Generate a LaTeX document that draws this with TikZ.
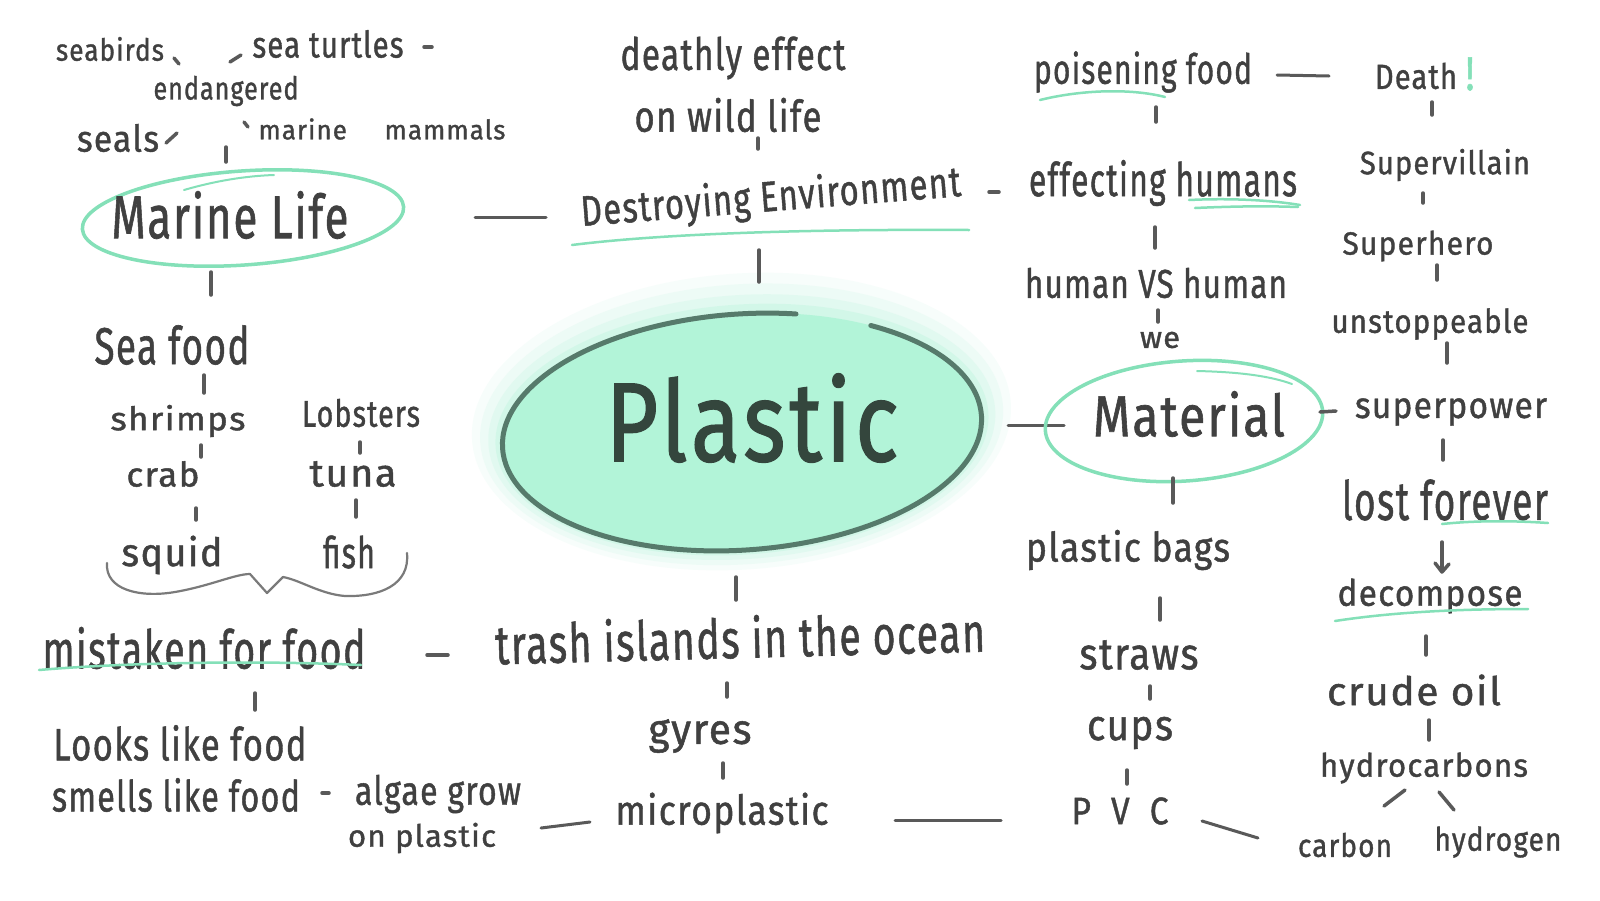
\documentclass[tikz,border=0pt]{standalone}
\usepackage{fontspec}
\usepackage{graphicx}
\setmainfont{Fira Sans}
\newfontfamily\hand[LetterSpace=4,FakeBold=1.2]{Fira Sans}
\usetikzlibrary{calc}
\definecolor{ink}{HTML}{404040}
\definecolor{tickc}{HTML}{595959}
\definecolor{mint}{HTML}{84E0B8}
\definecolor{mintfill}{HTML}{B2F4D8}
\definecolor{rim}{HTML}{567A6B}
\definecolor{plink}{HTML}{34463D}
\newsavebox\hwbox
% #1 target width, #2 target total height (handwriting box); vertical scale is the
% geometric mean of the width-fit and the height-fit factors
\newcommand\hw[3]{\sbox\hwbox{\fontsize{20}{20}\hand #3}%
  \pgfmathsetmacro\hwsx{#1/\the\wd\hwbox}%
  \pgfmathsetmacro\hwsy{#2/(\the\ht\hwbox+\the\dp\hwbox)}%
  \pgfmathsetmacro\hwsyy{sqrt(\hwsx*\hwsy)}%
  \scalebox{\hwsx}[\hwsyy]{\usebox\hwbox}}
\begin{document}
\begin{tikzpicture}[x=1pt,y=-1pt,
  lbl/.style={text=ink,inner sep=0pt,outer sep=0pt},
  tick/.style={draw=tickc,line width=3.5pt,line cap=round},
  conn/.style={draw=tickc,line width=3pt,line cap=round},
  ul/.style={draw=mint,line width=2.5pt,line cap=round},
  ring/.style={draw=mint,line width=3.5pt},
  brace/.style={draw=tickc!80,line width=2.2pt,line cap=round,line join=round},
]
\useasboundingbox (0,0) rectangle (1600,900);
\fill[white] (0,0) rectangle (1600,900);

% ---------- central Plastic ----------
\foreach \d/\o in {30/0.10,22/0.14,14/0.2,7/0.3}{
  \fill[mintfill,opacity=\o,rotate around={4:(742,430)}] (742,{432-0.35*\d}) ellipse [x radius={240+\d}, y radius={118+\d}];
}
\fill[mintfill,rotate around={4:(742,432)}] (742,432) ellipse [x radius=240, y radius=118];
\draw[draw=rim,line width=5pt,line cap=round,rotate around={4:(742,432)}]
  ([shift={(304.5:240 and 118)}]742,432) arc[start angle=304.5, end angle=645, x radius=240, y radius=118];
\node[lbl,text=plink] (plastic) at (752,418) {\hw{293}{110}{Plastic}};

% ---------- Marine Life ----------
\draw[ring,rotate around={4:(243,218)}] (243,218) ellipse [x radius=161, y radius=47];
\draw[draw=mint,line width=2pt,line cap=round] (184,190) .. controls (215,181) and (245,176) .. (274,175);
\node[lbl] (marinelife) at (230,215) {\hw{237}{66}{Marine Life}};

\node[lbl] (seabirds) at (110,49) {\hw{108}{28}{seabirds}};
\node[lbl] (seaturtles) at (328,44) {\hw{151}{35}{sea turtles}};
\node[lbl] (endangered) at (226,91) {\hw{145}{38}{endangered}};
\node[lbl] (seals) at (118,138) {\hw{82}{31}{seals}};
\node[lbl] (mammals) at (382,129) {\hw{247}{22}{marine\hspace{1.45em}mammals}};

\draw[tick] (174,58) -- (179,64);
\draw[tick] (241,55) -- (230,62);
\draw[tick] (424,47) -- (432,47);
\draw[tick] (177,133) -- (166,143);
\draw[tick] (244,122) -- (248,127);
\draw[tick] (226,147) -- (226,162);

\node[lbl] (seafood) at (172,345) {\hw{155}{56}{Sea food}};
\node[lbl] (shrimps) at (178,421) {\hw{135}{30}{shrimps}};
\node[lbl] (lobsters) at (361,413) {\hw{118}{37}{Lobsters}};
\node[lbl] (crab) at (163,474) {\hw{73}{25}{crab}};
\node[lbl] (tuna) at (353,474) {\hw{87}{25}{tuna}};
\node[lbl] (squid) at (172,555) {\hw{101}{40}{squid}};
\node[lbl] (fish) at (349,552) {\hw{52}{47}{fish}};

\draw[tick] (211,272) -- (211,295);
\draw[tick] (204,375) -- (204,393);
\draw[tick] (201,445) -- (201,457);
\draw[tick] (360,442) -- (360,453);
\draw[tick] (196,508) -- (196,520);
\draw[tick] (356,500) -- (356,517);

\draw[brace] (107,563) .. controls (105,590) and (140,598) .. (175,592)
  .. controls (210,586) and (235,574) .. (250,574) -- (267,593) -- (283,577)
  .. controls (300,580) and (320,594) .. (345,596)
  .. controls (380,597) and (410,585) .. (407,553);

\node[lbl] (mistaken) at (204,648) {\hw{323}{60}{mistaken for food}};
\draw[ul] (39,670) .. controls (120,663) and (250,660) .. (361,665);
\draw[tick] (255,693) -- (255,710);
\node[lbl] (looks) at (180,743) {\hw{253}{47}{Looks like food}};
\node[lbl] (smells) at (176,795) {\hw{248}{45}{smells like food}};
\draw[tick] (322,793) -- (329,793);
\node[lbl] (algae) at (438,794) {\hw{166}{48}{algae grow}};
\node[lbl] (onplastic) at (422,838) {\hw{148}{30}{on plastic}};

% ---------- Destroying Environment ----------
\draw[conn] (475,217) -- (546,217);
\node[lbl,rotate=4.5] (destroy) at (771,199) {\hw{381}{55}{Destroying Environment}};
\draw[ul] (572,245) .. controls (660,234) and (800,229) .. (969,230);
\node[lbl] (deathly) at (733,58) {\hw{225}{57}{deathly effect}};
\node[lbl] (wildlife) at (728,115) {\hw{187}{43}{on wild life}};
\draw[tick] (758,138) -- (758,149);
\draw[tick] (759,250) -- (759,282);
\draw[tick] (989,192) -- (999,192);

% ---------- humans ----------
\node[lbl] (poison) at (1143,72) {\hw{218}{57}{poisening food}};
\draw[ul] (1040,100) .. controls (1080,90) and (1130,88) .. (1165,97);
\draw[conn] (1277,75) -- (1329,76);
\node[lbl] (death) at (1416,76) {\hw{82}{32}{Death}};
\node[lbl,text=mint] (excl) at (1470,74) {\hw{9}{42}{!}};
\node[lbl] (effecting) at (1163,183) {\hw{268}{67}{effecting humans}};
\draw[ul] (1189,200) .. controls (1230,198) and (1270,200) .. (1300,205);
\draw[ul] (1195,208) .. controls (1240,206) and (1270,206) .. (1298,207);
\node[lbl] (hvh) at (1156,283) {\hw{262}{39}{human VS human}};
\node[lbl] (we) at (1160,340) {\hw{40}{16}{we}};
\draw[tick] (1156,107) -- (1156,122);
\draw[tick] (1155,227) -- (1155,248);
\draw[tick] (1158,310) -- (1158,322);

\node[lbl] (supervillain) at (1445,165) {\hw{170}{36}{Supervillain}};
\node[lbl] (superhero) at (1418,246) {\hw{151}{33}{Superhero}};
\node[lbl] (unstop) at (1430,324) {\hw{197}{35}{unstoppeable}};
\draw[tick] (1432,102) -- (1432,115);
\draw[tick] (1423,193) -- (1423,203);
\draw[tick] (1437,265) -- (1437,280);
\draw[tick] (1447,343) -- (1447,363);

% ---------- Material ----------
\draw[conn] (1008,425) -- (1064,425);
\draw[ring,rotate around={4:(1184,421)}] (1184,421) ellipse [x radius=139, y radius=60];
\draw[draw=mint,line width=2pt,line cap=round] (1197,371) .. controls (1240,372) and (1270,376) .. (1292,384);
\node[lbl] (material) at (1189,414) {\hw{192}{55}{Material}};
\draw[tick] (1320,412) -- (1336,411);
\node[lbl] (superpower) at (1451,412) {\hw{192}{30}{superpower}};
\draw[tick] (1443,440) -- (1443,460);
\node[lbl] (lost) at (1445,500) {\hw{206}{60}{lost forever}};
\draw[ul] (1442,524) .. controls (1480,520) and (1520,521) .. (1548,523);
\draw[tick] (1442,542) -- (1442,570);
\draw[tick,line join=round] (1435,563) -- (1442,572) -- (1449,564);
\node[lbl] (decompose) at (1430,596) {\hw{185}{38}{decompose}};
\draw[ul] (1335,621) .. controls (1400,611) and (1470,609) .. (1528,609);
\draw[tick] (1426,636) -- (1426,655);
\node[lbl] (crude) at (1414,690) {\hw{174}{30}{crude oil}};
\draw[tick] (1429,720) -- (1429,740);
\node[lbl] (hydro) at (1424,768) {\hw{208}{32}{hydrocarbons}};
\draw[tick] (1405,790) -- (1384,806);
\draw[tick] (1439,792) -- (1454,810);
\node[lbl] (carbon) at (1345,845) {\hw{94}{28}{carbon}};
\node[lbl] (hydrogen) at (1498,842) {\hw{127}{36}{hydrogen}};

\draw[tick] (1173,478) -- (1173,503);
\node[lbl] (bags) at (1128,550) {\hw{204}{46}{plastic bags}};
\draw[tick] (1160,598) -- (1160,620);
\node[lbl] (straws) at (1139,655) {\hw{119}{34}{straws}};
\draw[tick] (1150,686) -- (1150,699);
\node[lbl] (cups) at (1130,733) {\hw{86}{36}{cups}};
\draw[tick] (1127,770) -- (1127,784);
\node[lbl] (pvc) at (1120,811) {\hw{97}{31}{P\hspace{.6em}V\hspace{.6em}C}};
\draw[conn] (1202,821) -- (1258,838);

% ---------- trash islands ----------
\draw[tick] (736,577) -- (736,600);
\draw[tick] (427,655) -- (448,655);
\node[lbl,rotate=1.5] (trash) at (740,637) {\hw{490}{60}{trash islands in the ocean}};
\draw[tick] (727,683) -- (727,697);
\node[lbl] (gyres) at (700,736) {\hw{103}{35}{gyres}};
\draw[tick] (723,763) -- (723,778);
\node[lbl] (micro) at (722,813) {\hw{213}{47}{microplastic}};
\draw[conn] (541,828) -- (590,822);
\draw[conn] (895,820) -- (1001,820);
\end{tikzpicture}
\end{document}
